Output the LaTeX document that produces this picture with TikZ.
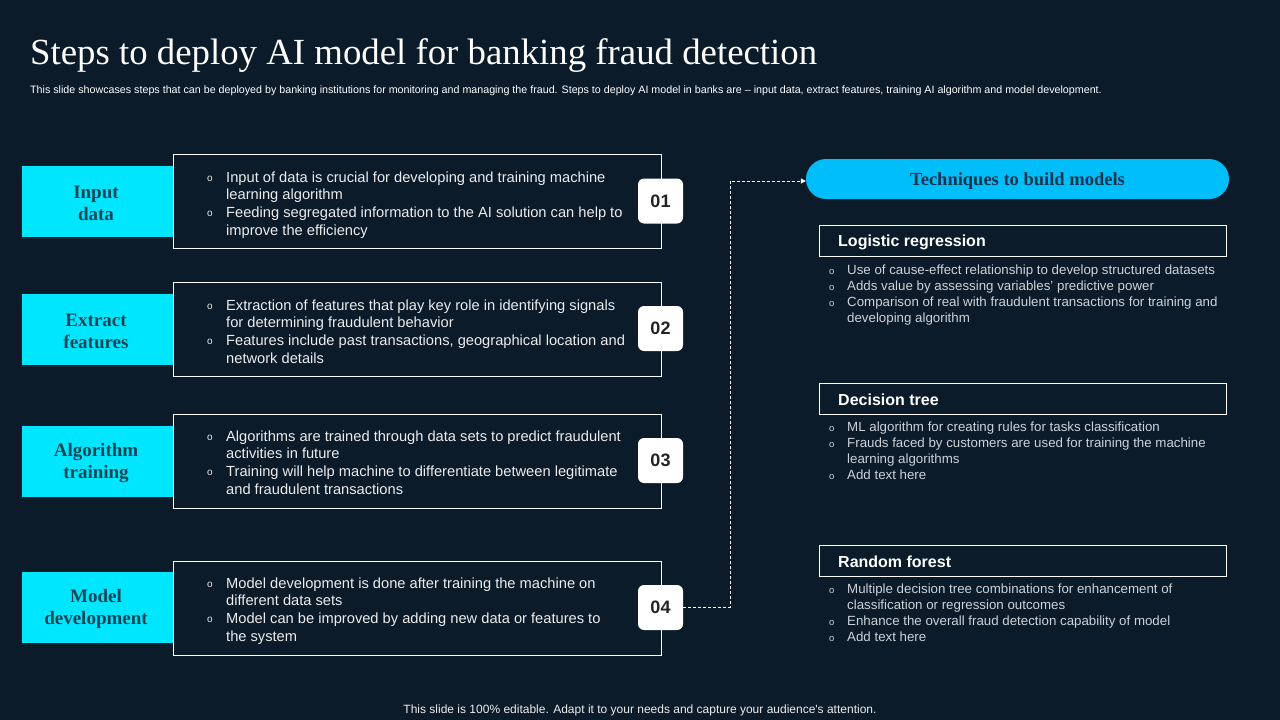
\documentclass[tikz,border=0pt]{standalone}
\usepackage{fontspec}
\setmainfont{Liberation Serif}
\newfontfamily\nar{Liberation Sans}
\usetikzlibrary{arrows.meta}
\definecolor{bg}{RGB}{11,27,42}
\definecolor{cyanbox}{RGB}{0,230,255}
\definecolor{lbltext}{RGB}{14,70,86}
\definecolor{pillc}{RGB}{0,190,250}
\definecolor{pilltext}{RGB}{20,52,80}
\definecolor{bodytext}{RGB}{236,236,236}
\definecolor{righttext}{RGB}{205,210,215}
\definecolor{numtext}{RGB}{35,35,35}
\newcommand\bu{\raisebox{0.5pt}{\fontsize{10}{10}\selectfont o}}
\newcommand\rbu{\raisebox{0.5pt}{\fontsize{9.5}{9.5}\selectfont o}}
\newenvironment{lbul}{\begin{tabular}[t]{@{}p{19pt}@{}l@{}}}{\end{tabular}}
\newenvironment{rbul}{\begin{tabular}[t]{@{}p{18pt}@{}l@{}}}{\end{tabular}}
\begin{document}
\begin{tikzpicture}[x=1pt,y=-1pt,
  lbl/.style={fill=cyanbox, minimum width=151pt, minimum height=71pt, inner sep=0pt, align=center, text=lbltext, font=\fontsize{19}{22}\selectfont\bfseries},
  lbltxt/.style={inner sep=0pt, align=center, text=lbltext, font=\fontsize{19}{22}\selectfont\bfseries},
  cbox/.style={draw=white, line width=1pt, minimum width=488pt, minimum height=94pt, inner sep=0pt},
  num/.style={fill=white, rounded corners=6pt, minimum width=45pt, minimum height=45pt, inner sep=0pt, text=numtext, font=\nar\fontsize{18}{18}\selectfont\bfseries},
  body/.style={anchor=base west, inner sep=0pt, text=bodytext, font=\nar\fontsize{14.67}{17.7}\selectfont},
  pillst/.style={fill=pillc, rounded corners=20pt, minimum width=423pt, minimum height=40pt, inner sep=0pt, text=pilltext, font=\fontsize{18.5}{18.5}\selectfont\bfseries},
  hdr/.style={draw=white, line width=1pt, minimum width=407pt, minimum height=31pt, inner sep=0pt},
  hdrtext/.style={anchor=west, inner sep=0pt, text=white, font=\nar\fontsize{16}{16}\selectfont\bfseries},
  rbody/.style={anchor=base west, inner sep=0pt, text=righttext, font=\nar\fontsize{13.3}{16}\selectfont},
  link/.style={draw=white, line width=0.8pt, dash pattern=on 3pt off 2pt}
]
\fill[bg] (0,0) rectangle (1280,720);
\useasboundingbox (0,0) rectangle (1280,720);

% title
\node[anchor=base west, inner sep=0pt, text=white, font=\fontsize{36.8}{40}\selectfont] (title) at (30,64.5) {Steps to deploy AI model for banking fraud detection};
\node[anchor=base west, inner sep=0pt, text=white, font=\nar\fontsize{10.7}{12}\selectfont] (sub) at (30,93) {This slide showcases steps that can be deployed by banking institutions for monitoring and managing the fraud. Steps to deploy AI model in banks are \textendash{} input data, extract features, training AI algorithm and model development.};

% content boxes
\node[cbox] (c1) at (417,201.5) {};
\node[cbox] (c2) at (417,329) {};
\node[cbox] (c3) at (417,461) {};
\node[cbox] (c4) at (417,608) {};

% labels
\node[lbl] (l1) at (97.5,201.5) {};
\node[lbl] (l2) at (97.5,329.5) {};
\node[lbl] (l3) at (97.5,461.5) {};
\node[lbl] (l4) at (97.5,607.5) {};
\node[lbltxt] (lt1) at (96,203) {Input\\data};
\node[lbltxt] (lt2) at (96,331) {Extract\\features};
\node[lbltxt] (lt3) at (96,463) {Algorithm\\training};
\node[lbltxt] (lt4) at (96,609) {Model\\development};

% body text
\node[body] (t1) at (207,182) {\begin{lbul}
\bu & Input of data is crucial for developing and training machine\\
 & learning algorithm\\
\bu & Feeding segregated information to the AI solution can help to\\
 & improve the efficiency
\end{lbul}};
\node[body] (t2) at (207,310) {\begin{lbul}
\bu & Extraction of features that play key role in identifying signals\\
 & for determining fraudulent behavior\\
\bu & Features include past transactions, geographical location and\\
 & network details
\end{lbul}};
\node[body] (t3) at (207,441) {\begin{lbul}
\bu & Algorithms are trained through data sets to predict fraudulent\\
 & activities in future\\
\bu & Training will help machine to differentiate between legitimate\\
 & and fraudulent transactions
\end{lbul}};
\node[body] (t4) at (207,588) {\begin{lbul}
\bu & Model development is done after training the machine on\\
 & different data sets\\
\bu & Model can be improved by adding new data or features to\\
 & the system
\end{lbul}};

% number boxes
\node[num] (n1) at (660.5,201) {01};
\node[num] (n2) at (660.5,328.5) {02};
\node[num] (n3) at (660.5,460.5) {03};
\node[num] (n4) at (660.5,607.5) {04};

% pill
\node[pillst] (pill) at (1017.5,179) {};
\node[inner sep=0pt, text=pilltext, font=\fontsize{18.5}{18.5}\selectfont\bfseries] (pt) at (1017.5,181) {Techniques to build models};
\coordinate (bend) at (730,607.5);
\draw[link, -{Triangle[length=5pt,width=5pt]}] (n4.east) -- (bend) |- ([yshift=-2pt]pill.west);

% headers
\node[hdr] (h1) at (1022.5,240.5) {};
\node[hdr] (h2) at (1022.5,398.5) {};
\node[hdr] (h3) at (1022.5,560.5) {};
\node[hdrtext] (ht1) at (838,242) {Logistic regression};
\node[hdrtext] (ht2) at (838,400) {Decision tree};
\node[hdrtext] (ht3) at (838,562) {Random forest};

% right bullets
\node[rbody] (r1) at (829,274.5) {\begin{rbul}
\rbu & Use of cause-effect relationship to develop structured datasets\\
\rbu & Adds value by assessing variables’ predictive power\\
\rbu & Comparison of real with fraudulent transactions for training and\\
 & developing algorithm
\end{rbul}};
\node[rbody] (r2) at (829,431.5) {\begin{rbul}
\rbu & ML algorithm for creating rules for tasks classification\\
\rbu & Frauds faced by customers are used for training the machine\\
 & learning algorithms\\
\rbu & Add text here
\end{rbul}};
\node[rbody] (r3) at (829,593.5) {\begin{rbul}
\rbu & Multiple decision tree combinations for enhancement of\\
 & classification or regression outcomes\\
\rbu & Enhance the overall fraud detection capability of model\\
\rbu & Add text here
\end{rbul}};

% footer
\node[anchor=base, inner sep=0pt, text=bodytext, font=\nar\fontsize{12}{14}\selectfont] (foot) at (640,713) {This slide is 100\% editable. Adapt it to your needs and capture your audience's attention.};
\end{tikzpicture}
\end{document}
